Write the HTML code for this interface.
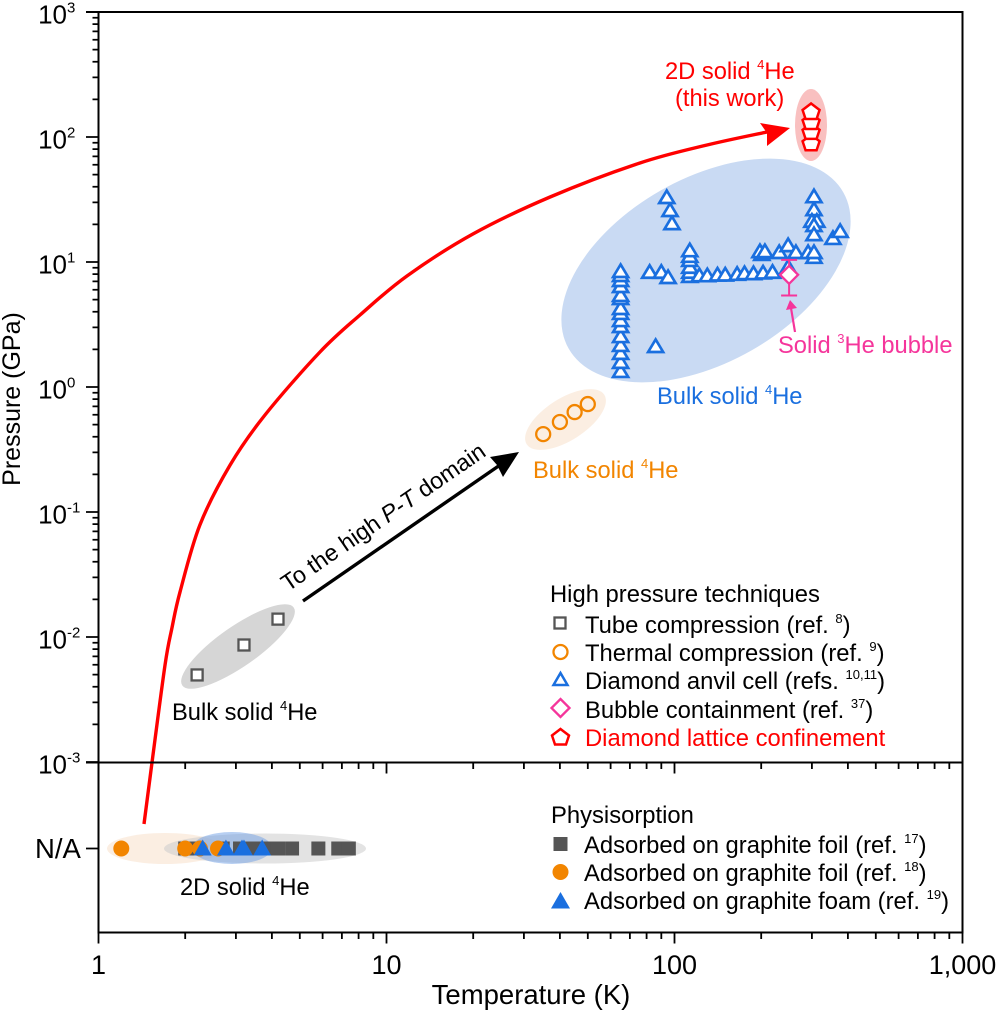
<!DOCTYPE html>
<html lang="en">
<head>
<meta charset="utf-8">
<title>Helium solid pressure-temperature chart</title>
<style>
html,body{margin:0;padding:0;background:#fff;}
svg{display:block;font-family:"Liberation Sans",sans-serif;}
text{fill:#000;font-size:23.7px;}
</style>
</head>
<body>
<svg id="chart" xmlns="http://www.w3.org/2000/svg" width="996" height="1011" viewBox="0 0 996 1011">
  <g id="regions"></g>
  <g id="annotations"></g>
  <g id="marks"></g>
  <g id="axes"></g>

  <text transform="translate(20,399) rotate(-90)" text-anchor="middle" style="font-size:25px">Pressure (GPa)</text>
  <text x="531" y="1004" text-anchor="middle" style="font-size:27.5px">Temperature (K)</text>
  <text x="35" y="858" style="font-size:27.5px">N/A</text>

  <text x="665" y="79" style="fill:#f00">2D solid <tspan dy="-10" style="font-size:13px">4</tspan><tspan dy="10">He</tspan></text>
  <text x="675" y="106" style="fill:#f00">(this work)</text>
  <text x="657" y="404" style="fill:#1a6fdf">Bulk solid <tspan dy="-10" style="font-size:13px">4</tspan><tspan dy="10">He</tspan></text>
  <text x="533" y="478" style="fill:#f28500">Bulk solid <tspan dy="-10" style="font-size:13px">4</tspan><tspan dy="10">He</tspan></text>
  <text x="172" y="720">Bulk solid <tspan dy="-10" style="font-size:13px">4</tspan><tspan dy="10">He</tspan></text>
  <text x="778" y="353" style="fill:#f5359b">Solid <tspan dy="-10" style="font-size:13px">3</tspan><tspan dy="10">He bubble</tspan></text>
  <text x="180" y="895">2D solid <tspan dy="-10" style="font-size:13px">4</tspan><tspan dy="10">He</tspan></text>
  <text transform="translate(288,592) rotate(-34.5)" style="font-size:23.4px">To the high <tspan style="font-style:italic">P-T</tspan> domain</text>

  <g>
    <text x="550" y="602" style="font-size:23.8px">High pressure techniques</text>
    <rect x="554.5" y="617.5" width="11" height="11" fill="#fff" stroke="#555" stroke-width="2.3"/>
    <text x="585" y="633" style="font-size:23.8px">Tube compression (ref. <tspan dy="-10" style="font-size:13px">8</tspan><tspan dy="10">)</tspan></text>
    <circle cx="560.5" cy="652" r="7" fill="#fff" stroke="#f28500" stroke-width="2.3"/>
    <text x="585" y="661" style="font-size:23.8px">Thermal compression (ref. <tspan dy="-10" style="font-size:13px">9</tspan><tspan dy="10">)</tspan></text>
    <path d="M560.5 673L567.5 685H553.5Z" fill="#fff" stroke="#1a6fdf" stroke-width="2.5"/>
    <text x="585" y="689" style="font-size:23.8px">Diamond anvil cell (refs. <tspan dy="-10" style="font-size:13px">10,11</tspan><tspan dy="10">)</tspan></text>
    <path d="M560.5 699L569.5 708L560.5 717L551.5 708Z" fill="#fff" stroke="#f5359b" stroke-width="2.3"/>
    <text x="585" y="718" style="font-size:23.8px">Bubble containment (ref. <tspan dy="-10" style="font-size:13px">37</tspan><tspan dy="10">)</tspan></text>
    <path d="M560.5 729L569 735.5L566 744.5H555L552 735.5Z" fill="#fff" stroke="#f00" stroke-width="2.5"/>
    <text x="585" y="746" style="font-size:23.8px;fill:#f00">Diamond lattice confinement</text>
  </g>

  <g>
    <text x="551" y="823" style="font-size:23.8px">Physisorption</text>
    <rect x="553.5" y="837" width="14" height="14" fill="#555"/>
    <text x="584" y="853" style="font-size:23.8px">Adsorbed on graphite foil (ref. <tspan dy="-10" style="font-size:13px">17</tspan><tspan dy="10">)</tspan></text>
    <circle cx="560.5" cy="872" r="8" fill="#f28500"/>
    <text x="584" y="881" style="font-size:23.8px">Adsorbed on graphite foil (ref. <tspan dy="-10" style="font-size:13px">18</tspan><tspan dy="10">)</tspan></text>
    <path d="M560.5 892L570 908.500H551Z" fill="#1a6fdf"/>
    <text x="584" y="909" style="font-size:23.8px">Adsorbed on graphite foam (ref. <tspan dy="-10" style="font-size:13px">19</tspan><tspan dy="10">)</tspan></text>
  </g>
</svg>

<script>
// ---- data ----
const tubeT = [2.2, 3.2, 4.2];
const tubeP = [0.00497, 0.00863, 0.0139];
const thermalT = [35, 40, 45, 50];
const thermalP = [0.42, 0.525, 0.63, 0.73];
const dacT = [65,65,65,65,65,65,65,65,65,65,65,65,65,65,65,
  86, 82, 90, 95, 98, 96.5, 94,
  113,113,113,113,113,113,
  122,130,141,150,165,175,188,203,219,
  248,201,198,206,231,248,264,291,305,305,
  305,305,300,312,305,305,355,376];
const dacP = [1.32,1.56,1.84,2.13,2.51,3.02,3.37,3.84,4.21,5.06,5.35,6.31,7.05,7.73,8.32,
  2.09, 8.2, 8.2, 7.45, 20.1, 25.6, 32.5,
  7.6,8.2,9,10.2,11,12.2,
  7.7,7.7,7.8,7.8,7.9,8.0,8.0,8.1,8.2,
  9,11.4,12,12,11.8,13.4,11.8,11.8,10.8,11.8,
  26,33,21,21,19.4,16.4,15.3,17.4];
const bubbleT = [250];
const bubbleP = [7.9];
const bubbleHigh = [10.4];
const bubbleLow = [5.4];
const latticeT = [298, 298, 298, 298];
const latticeP = [90, 111, 133, 160];
const foil17T = [2.0, 2.1, 2.7, 3.1, 3.4, 3.8, 4.2, 4.7, 5.8, 6.8, 7.4];
const foil18T = [1.2, 2.0, 2.25, 2.6];
const foam19T = [2.3, 2.77, 3.15, 3.2, 3.7];
const curveLogT = [0.158,0.186,0.231,0.255,0.283,0.352,0.457,0.578,0.769,0.908,1.071,1.3,1.568,1.88,2.113,2.321];
const curveLogP = [-3.496,-3,-2.224,-1.928,-1.64,-1.104,-0.624,-0.224,0.28,0.576,0.888,1.224,1.52,1.792,1.936,2.04];
const xTickValues = [1, 10, 100, 1000];
const xTickLabels = ['1', '10', '100', '1,000'];
const yTickExponents = [3, 2, 1, 0, -1, -2, -3];
const yTickLabels = ['3', '2', '1', '0', '-1', '-2', '-3'];

// ---- axis functions ----
const X0 = 98.5, XDEC = 288, Y0 = 12, YDEC = 125, XR = 962.5, YB = 762.5, YEND = 932.5, NA_Y = 848.5;
function xScale(t){ return X0 + XDEC * Math.log10(t); }
function yScale(p){ return Y0 + YDEC * (3 - Math.log10(p)); }
function xLog(l){ return X0 + XDEC * l; }
function yLog(l){ return Y0 + YDEC * (3 - l); }

const NS = 'http://www.w3.org/2000/svg';
function mk(parent, tag, props){
  const e = document.createElementNS(NS, tag);
  for (const k in props) e.setAttribute(k, props[k]);
  parent.appendChild(e);
  return e;
}
const regions = document.getElementById('regions');
const ann = document.getElementById('annotations');
const marks = document.getElementById('marks');
const axes = document.getElementById('axes');

function ell(cx, cy, rx, ry, rot, fill, op){
  return mk(regions, 'ellipse', {cx, cy, rx, ry, fill, 'fill-opacity': op,
    transform: 'rotate(' + rot + ' ' + cx + ' ' + cy + ')'});
}
let r;
r = ell(706, 270.5, 158, 92, -29.7, '#c9daf3', 1);


r = ell(811, 125, 16, 36, 0, '#f9c0c0', 1);


r = ell(565.5, 419.5, 46, 21, -32.5, '#fbeee2', 1);


r = ell(238, 646.5, 68, 20, -35, '#d6d6d6', 1);


r = ell(165, 848.5, 58, 15.5, 0, '#fbeee2', 1);


r = ell(265, 848.5, 101, 15, 0, '#cccccc', 0.55);


r = ell(232, 848, 40, 16, 0, '#6f9fe6', 0.5);



// ---- red curve ----
const pts = curveLogT.map((l, i) => [xLog(l), yLog(curveLogP[i])]);
let d = 'M' + pts[0][0] + ' ' + pts[0][1];
for (let i = 0; i < pts.length - 1; i++) {
  const p0 = pts[Math.max(i - 1, 0)], p1 = pts[i], p2 = pts[i + 1], p3 = pts[Math.min(i + 2, pts.length - 1)];
  d += 'C' + (p1[0] + (p2[0] - p0[0]) / 6) + ' ' + (p1[1] + (p2[1] - p0[1]) / 6) + ' ' +
       (p2[0] - (p3[0] - p1[0]) / 6) + ' ' + (p2[1] - (p3[1] - p1[1]) / 6) + ' ' + p2[0] + ' ' + p2[1];
}
const curve = mk(ann, 'path', {d, fill: 'none', stroke: '#f00', 'stroke-width': 3.4});


const redHead = mk(ann, 'path', {d: 'M790 128L760 123L767 133L767 146Z', fill: '#f00'});



// ---- black arrow ----
const blackLine = mk(ann, 'path', {d: 'M303 601L500 465', stroke: '#000', 'stroke-width': 3.4, fill: 'none'});


const blackHead = mk(ann, 'path', {d: 'M519 452L490 457L497 465L503 477Z', fill: '#000'});



// ---- marker drawing ----
function tri(cx, cy){ return mk(marks, 'path', {d: 'M' + cx + ' ' + (cy - 7.5) + 'l7.500 12.500h-15z', fill: '#fff', stroke: '#1a6fdf', 'stroke-width': 2.7}); }
function pent(cx, cy){ return mk(marks, 'path', {d: 'M' + cx + ' ' + (cy - 8) + 'l8.5 6.500l-3 9h-11l-3-9z', fill: '#fff', stroke: '#f00', 'stroke-width': 2.5}); }

for (let i = 0; i < tubeT.length; i++) {
  const el = mk(marks, 'rect', {x: xScale(tubeT[i]) - 5.5, y: yScale(tubeP[i]) - 5.5, width: 11, height: 11, fill: '#fff', stroke: '#555', 'stroke-width': 2.3});
  
  
}
for (let i = 0; i < thermalT.length; i++) {
  const el = mk(marks, 'circle', {cx: xScale(thermalT[i]), cy: yScale(thermalP[i]), r: 7, fill: 'none', stroke: '#f28500', 'stroke-width': 2.3});
  
  
}
for (let i = 0; i < dacT.length; i++) {
  const el = tri(xScale(dacT[i]), yScale(dacP[i]));
  
  
}
for (let i = 0; i < latticeT.length; i++) {
  const el = pent(xScale(latticeT[i]), yScale(latticeP[i]));
  
  
}
for (let i = 0; i < bubbleT.length; i++) {
  const bx = xScale(bubbleT[i]), hi = yScale(bubbleHigh[i]), lo = yScale(bubbleLow[i]), by = yScale(bubbleP[i]);
  const err = mk(marks, 'path', {d: 'M' + bx + ' ' + hi + 'V' + lo + 'M' + (bx - 8) + ' ' + hi + 'h16M' + (bx - 8) + ' ' + lo + 'h16', stroke: '#f5359b', 'stroke-width': 2, fill: 'none'});
  
  
  const el = mk(marks, 'path', {d: 'M' + bx + ' ' + (by - 9) + 'l9 9l-9 9l-9-9z', fill: '#fff', stroke: '#f5359b', 'stroke-width': 2.3});
  
  
}
const pinkArrow = mk(marks, 'path', {d: 'M795 332L791 308', stroke: '#f5359b', 'stroke-width': 2.2, fill: 'none'});


const pinkHead = mk(marks, 'path', {d: 'M790 300L786 310L797 308Z', fill: '#f5359b'});



for (let i = 0; i < foil17T.length; i++) {
  const el = mk(marks, 'rect', {x: xScale(foil17T[i]) - 7, y: NA_Y - 7, width: 14, height: 14, fill: '#555'});
  
  
}
for (let i = 0; i < foil18T.length; i++) {
  const el = mk(marks, 'circle', {cx: xScale(foil18T[i]), cy: NA_Y, r: 8, fill: '#f28500'});
  
  
}
for (let i = 0; i < foam19T.length; i++) {
  const cx = xScale(foam19T[i]);
  const el = mk(marks, 'path', {d: 'M' + cx + ' ' + (NA_Y - 9) + 'l9 16h-18z', fill: '#1a6fdf'});
  
  
}

// ---- axes ----
const frame = mk(axes, 'path', {d: 'M86 ' + Y0 + 'H' + XR + 'V' + YEND + 'H' + X0 + 'V' + Y0 + 'M86 ' + YB + 'H' + XR, fill: 'none', stroke: '#000', 'stroke-width': 2});



let tickD = '';
for (let dec = 0; dec < 3; dec++) {
  const base = Math.pow(10, dec);
  for (let m = 2; m <= 9; m++) {
    const x = xScale(base * m);
    tickD += 'M' + x + ' ' + YEND + 'v6.500M' + x + ' ' + YB + 'v6.500';
  }
}
xTickValues.forEach(v => {
  const x = xScale(v);
  tickD += 'M' + x + ' ' + YEND + 'v11M' + x + ' ' + YB + 'v11';
});
for (let e = -3; e < 3; e++) {
  for (let m = 2; m <= 9; m++) {
    tickD += 'M' + X0 + ' ' + yScale(m * Math.pow(10, e)) + 'h-6';
  }
}
yTickExponents.forEach(e => { tickD += 'M' + X0 + ' ' + yScale(Math.pow(10, e)) + 'H86'; });
tickD += 'M' + X0 + ' ' + NA_Y + 'H86';
const ticks = mk(axes, 'path', {d: tickD, fill: 'none', stroke: '#000', 'stroke-width': 1.8});



xTickValues.forEach((v, i) => {
  const t = mk(axes, 'text', {x: xScale(v), y: 974, 'text-anchor': 'middle', style: 'font-size:27px'});
  t.textContent = xTickLabels[i];
  
  
});
yTickExponents.forEach((e, i) => {
  const y = yScale(Math.pow(10, e));
  const t = mk(axes, 'text', {x: 67, y: y + 11.5, 'text-anchor': 'end', style: 'font-size:26px'});
  t.textContent = '10';
  
  
  const s = mk(axes, 'text', {x: 67, y: y + 0.5, style: 'font-size:15px'});
  s.textContent = yTickLabels[i];
  
  
});
</script>
</body>
</html>
